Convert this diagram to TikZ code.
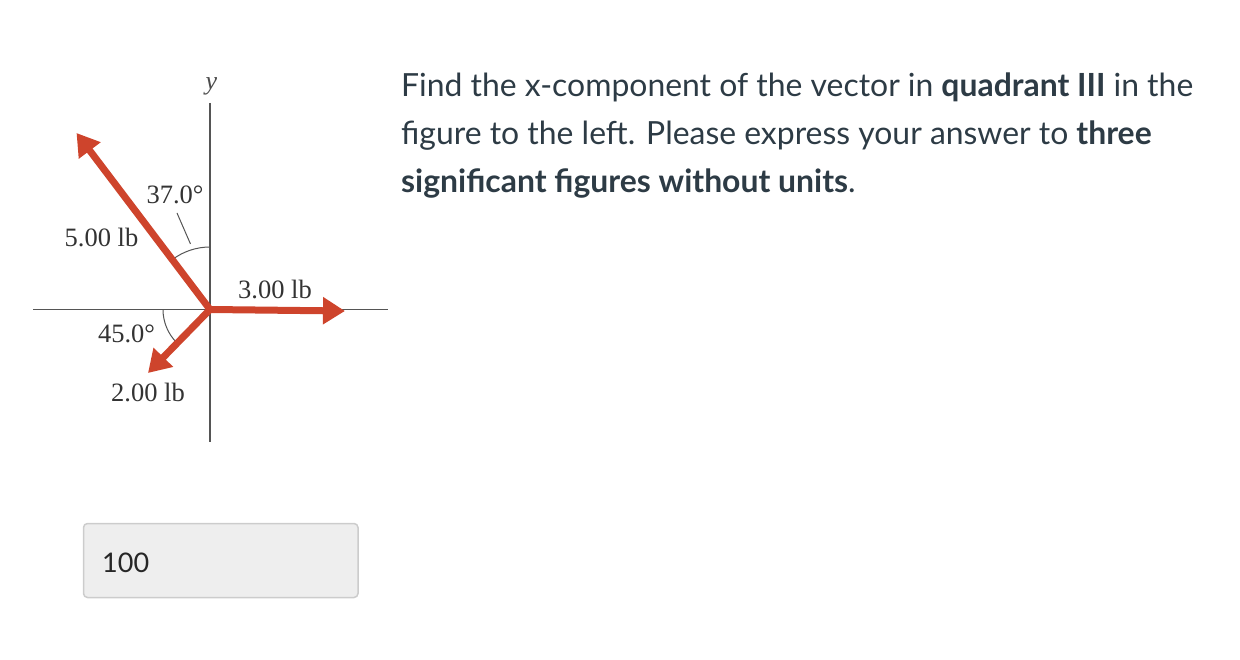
\documentclass[tikz,border=0pt]{standalone}
\usepackage{fontspec}
\usetikzlibrary{arrows.meta}
\newfontfamily\lato{Lato}
\newfontfamily\tnr{Liberation Serif}
\definecolor{vecred}{RGB}{206,68,44}
\definecolor{axisgray}{RGB}{85,85,85}
\definecolor{qtext}{RGB}{45,59,69}
\definecolor{boxfill}{RGB}{238,238,238}
\definecolor{boxline}{RGB}{204,204,204}
\begin{document}
\begin{tikzpicture}[x=1pt,y=-1pt,
  vec/.style={draw=vecred,line width=7pt,-{Triangle[length=22pt,width=26pt]}},
  axis/.style={draw=axisgray,line width=1.4pt},
  thin/.style={draw=axisgray,line width=1pt},
  lab/.style={font=\tnr\fontsize{26.5}{30}\selectfont,text=black!80,inner sep=0pt},
  qline/.style={font=\lato\fontsize{31.9}{36}\selectfont,text=qtext,anchor=base west,inner sep=0pt}]
\useasboundingbox (0,0) rectangle (1240,660);
% axes
\coordinate (O) at (210,309.5);
\coordinate (ytop) at (210,103);
\coordinate (ybot) at (210,442);
\coordinate (xl) at (33,309.5);
\coordinate (xr) at (388,309.5);
\draw[axis] (ytop) -- (ybot);
\draw[axis] (xl) -- (xr);
\node[font=\tnr\itshape\fontsize{26}{28}\selectfont,text=black!70,inner sep=0pt] (ylab) at (211.5,86) {y};
% angle arcs
\draw[thin] (O) ++(-90:62.5) arc[start angle=-90,end angle=-126.9,radius=62.5];
\draw[thin] (O) ++(180:47) arc[start angle=180,end angle=135,radius=47];
% vectors
\coordinate (t5) at (76.5,133);
\coordinate (t3) at (345,311);
\coordinate (t2) at (148,373);
\draw[vec] (O) -- (t3);
\draw[vec] (O) -- (t2);
\draw[vec] (O) -- (t5);
% labels
\node[lab] (a37) at (175,195) {37.0\textdegree};
\coordinate (l1) at (177,213);
\coordinate (l2) at (190.5,244);
\draw[thin] (l1) -- (l2);
\node[lab] (f5) at (101.5,237) {5.00 lb};
\node[lab] (f3) at (275,289) {3.00 lb};
\node[lab] (a45) at (126.5,333.5) {45.0\textdegree};
\node[lab] (f2) at (148,392) {2.00 lb};
% question text
\node[qline] (q1) at (401,97) {Find the x-component of the vector in \textbf{quadrant III} in the};
\node[qline] (q2) at (401,145) {figure to the left. Please express your answer to \textbf{three}};
\node[qline] (q3) at (401,193) {\textbf{significant figures without units}.};
% answer box
\draw[fill=boxfill,draw=boxline,line width=1.5pt,rounded corners=4pt] (83.5,523.5) rectangle (358,597.5);
\node[qline,font=\lato\fontsize{27}{30}\selectfont,text=black!85] (ans) at (102,572) {100};
\end{tikzpicture}
\end{document}
